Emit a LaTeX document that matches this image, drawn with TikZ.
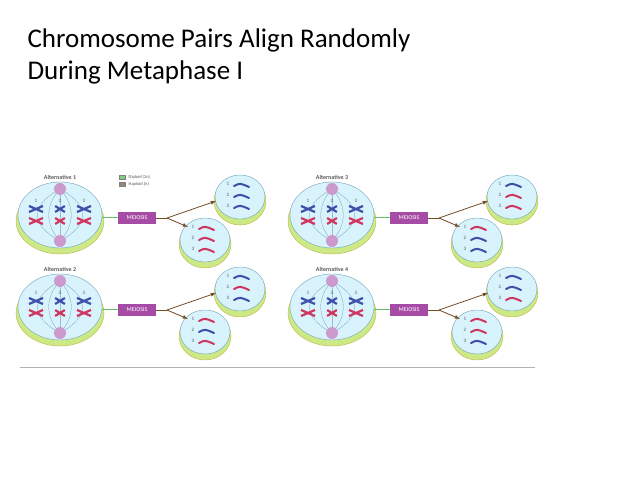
\documentclass[tikz,border=0pt]{standalone}
\usepackage{fontspec}
\setmainfont{Carlito}
\begin{document}
\begin{tikzpicture}[x=1pt,y=-1pt,
  lab/.style={font=\fontsize{6}{6}\selectfont\bfseries,text=gray!70!black},
  num/.style={font=\fontsize{5}{5}\selectfont,text=gray!70!black},
  mei/.style={fill=violet!70,text=white,font=\fontsize{6}{6}\selectfont,minimum width=38pt,minimum height=12pt,inner sep=1pt},
  arr/.style={draw=brown!60!black,-latex,line width=0.8pt}]
\definecolor{cb}{RGB}{60,80,170}
\definecolor{cr}{RGB}{205,55,95}
\useasboundingbox (0,0) rectangle (638,478);
\node[anchor=west,font=\fontsize{27}{32}\selectfont,align=left] (title) at (24,56) {Chromosome Pairs Align Randomly\\During Metaphase I};
\draw[gray!60] (20,367) -- (535,367);
\newcommand\mych[3]{\foreach \i/\c in {#3}{%
  \draw[\c,line width=2pt,line cap=round] (#1-6,#2-22+\i*11) .. controls (#1,#2-25+\i*11) .. (#1+9,#2-21+\i*11);
  \node[num] at (#1-12,#2-24+\i*11) {\i};}}
\newcommand\mypanel[5]{%
\begin{scope}[shift={(#1,#2)}]
 \node[lab] (L#3) at (0,-38) {Alternative #3};
 \fill[yellow!60!green!50,draw=olive!60] (0,6) ellipse (44 and 33);
 \fill[cyan!15,draw=cyan!40!gray] (0,0) ellipse (42 and 33);
 \foreach \a in {-30,-15,0,15,30}{\draw[cyan!40!gray,line width=0.3pt] (0,-26) .. controls (\a,-10) and (\a,10) .. (0,26);}
 \fill[violet!40] (0,-26) circle (6); \fill[violet!40] (0,26) circle (6);
 \foreach \xx/\s in {-24/1,0/0.7,24/1}{
  \draw[cb,line width=2.2pt] (\xx-7*\s,-9) -- (\xx+7*\s,-3) (\xx-7*\s,-3) -- (\xx+7*\s,-9);
  \draw[cr,line width=2.2pt] (\xx-7*\s,3) -- (\xx+7*\s,9) (\xx-7*\s,9) -- (\xx+7*\s,3);}
 \node[num] at (-24,-14) {1};
 \node[num] at (0,-14) {2};
 \node[num] at (24,-14) {3};
 \node[mei] (M#3) at (77,3) {MEIOSIS};
 \draw[green!60!black!60,line width=1pt] (42,3) -- (M#3.west);
 \coordinate (J#3) at (107,3);
 \draw[brown!60!black,line width=0.8pt] (M#3.east) -- (J#3);
 \fill[yellow!60!green!50,draw=olive!60] (180,-14) ellipse (26 and 24);
 \fill[cyan!15,draw=cyan!40!gray] (180,-18) ellipse (25 and 22);
 \fill[yellow!60!green!50,draw=olive!60] (145,29) ellipse (26 and 24);
 \fill[cyan!15,draw=cyan!40!gray] (145,25) ellipse (25 and 22);
 \coordinate (A#3) at (156,-14); \coordinate (B#3) at (128,12);
 \draw[arr] (J#3) -- (A#3); \draw[arr] (J#3) -- (B#3);
 \mych{180}{-18}{#4}
 \mych{145}{25}{#5}
\end{scope}}
\mypanel{60}{215}{1}{1/cb,2/cb,3/cb}{1/cr,2/cr,3/cr}
\mypanel{60}{307}{2}{1/cb,2/cr,3/cb}{1/cr,2/cb,3/cr}
\mypanel{332}{215}{3}{1/cb,2/cr,3/cr}{1/cr,2/cb,3/cb}
\mypanel{332}{307}{4}{1/cb,2/cb,3/cr}{1/cr,2/cr,3/cb}
\node[fill=green!60!black!50,draw=gray,minimum width=6pt,minimum height=4pt,inner sep=0pt] (g) at (122,177) {};
\node[fill=brown!40!black!60,draw=gray,minimum width=6pt,minimum height=4pt,inner sep=0pt] (h) at (122,184) {};
\node[lab,anchor=west,font=\fontsize{4.5}{5}\selectfont] at (g.east) {Diploid (2n)};
\node[lab,anchor=west,font=\fontsize{4.5}{5}\selectfont] at (h.east) {Haploid (n)};
\end{tikzpicture}
\end{document}
